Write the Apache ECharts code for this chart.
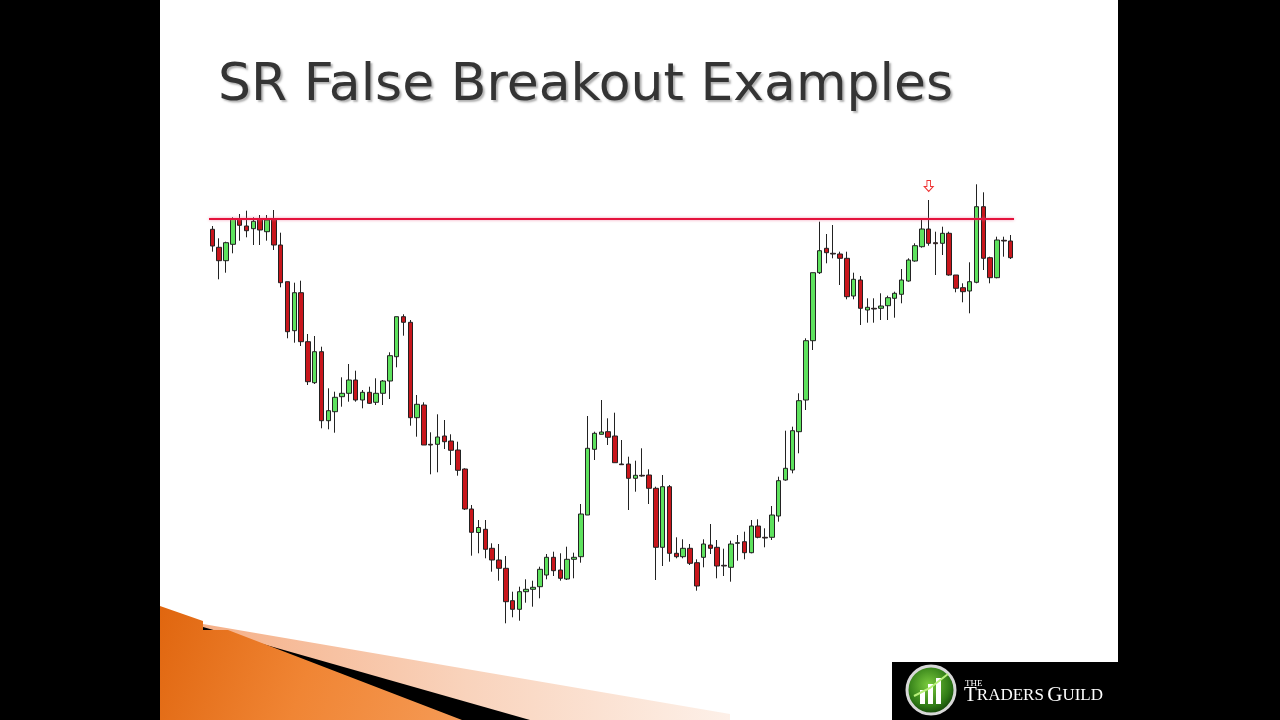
<!DOCTYPE html>
<html>
<head>
<meta charset="utf-8">
<script src="https://cdn.jsdelivr.net/npm/echarts@6/dist/echarts.min.js"></script>
<style>
html,body{margin:0;padding:0;background:#000;}
#chart{width:1280px;height:720px;}
</style>
</head>
<body>
<div id="chart"></div>
<script>
var titleText = 'SR False Breakout Examples';
var resistanceLevel = 481;
var signalIndex = 105;
var signalValue = 514;

var opens = [470.7,452.7,439.3,455.7,481,474,471.3,480.7,468.3,480.7,
455,418.3,369.3,407.3,358.3,317.3,348.3,279.3,288.3,303.3,
306.7,320,300,307.7,297.7,306.7,319,343.3,383.3,377.7,
282.3,295,255.7,255.7,264,259,250,231,191,167.5,
170.7,151.7,140,131.7,99.3,90.7,108.3,110.7,113.3,125,
142.7,130,121,140.7,143.3,185,250.7,265.7,268.3,264,
236,236,221.7,224.7,225,211.7,152.7,213.3,146.7,143.3,
151.7,137.3,142.7,155,152.7,134.7,132.7,156.7,158.3,147.3,
174,162.7,162.7,184,220,230,268.3,300,359.3,427.3,
451.7,446.7,446,441.7,404,420,390,391.7,391.7,394.3,
401.7,405.7,419,439,453.3,471,457.3,456.7,466.7,425,
412.3,409,417.7,493.3,442.3,422.3,459.7,459];

var closes = [454,439.3,457.3,481,474.7,469.3,478.7,470,480,455,
417.3,368.3,407.3,358.3,318.3,348.3,279.3,289.3,302.7,306.7,
320,300,307.7,296.7,306.7,319,344.3,383.3,377.7,282.3,
295.7,255,255,263,258.3,249.7,229.7,191,167.7,172.5,
150.7,140,131.7,98.3,90.7,108.3,110.7,112.7,130.7,142.7,
129.3,121.7,140.7,142.7,186,251.7,266.7,268,262.7,237.3,
235.3,221.7,224.7,224,211.7,152.7,213.3,146.7,143.3,151.7,
136.7,114,156,151.7,134,134,156,157.3,147.3,174,
162.7,162,185,219.3,231.7,269.3,299.3,359.3,427.3,449.3,
447.3,446,441.7,403.3,420.7,391.7,392.7,391,394,402.3,
406.7,420,440,454.3,471,456.7,456.3,466.7,425,411.7,
408.3,418.3,493.3,441.7,422.3,460,459,442.3];

var lows = [448.3,420.7,427.3,446.7,459.3,462.7,455,455,459.3,450,
412.7,361.7,357.3,354,315,316,271.7,270.7,267.3,293.3,
298.3,298.3,291.7,296,295,295,301,332.7,364.3,274.3,
263.3,255,225.7,227.7,251,235,224.3,190,144.3,146.7,
141.7,128.3,119.3,76.7,82.7,79.3,97.3,93.3,101.7,120.7,
124,119.3,120,121.7,137.3,185,240,265.7,255,237.3,
235.3,190,208.3,223.3,196,120,134,138.3,141.7,141.7,
135,109.3,132.7,146,121.7,124,118.3,139.3,140.7,146.7,
161.7,152.7,160,178.3,219.3,226.7,246.7,290,350,426,
436.7,441.7,415,400.7,400.7,375,377.3,377.3,380,380,
382.3,396.7,418.3,438.3,452.3,454.3,425,445,424.3,407.7,
397.7,386.7,416.7,430,416.7,421.7,443.3,441];

var highs = [474,461.7,458.3,482.7,486,489.3,482.7,485,485,490,
467.3,418.3,417.3,419.3,366,364,353.3,311.7,308.3,322.7,
336,329.3,310,313.3,321.7,320,347.7,383.3,385.7,380,
305,297.7,267.7,285.7,280,265.7,258.3,231.7,195,180,
180,156.7,156,144,108.3,113.3,120.7,119.3,133.3,146,
148.3,146.7,153.3,147.3,196,284,268.3,300,281.7,287.3,
260,243.3,239.3,251.7,230.7,213.3,225,215,162.7,160.7,
156,140.7,160.7,176,160,151.3,159.3,165,168.3,180,
180.7,171.7,194,223.3,269.3,273.3,306.7,361.7,427.3,478.3,
466,475,448.3,448.3,427.3,424,401.7,401.7,406.7,404.3,
408.3,431,441.7,456.7,481.7,500,468.3,473.3,468.3,425,
416.7,437.7,515.7,507.7,443.3,463.3,463.3,465];

var categories = opens.map(function (_, i) { return String(i + 1); });
var ohlc = opens.map(function (o, i) { return [o, closes[i], lows[i], highs[i]]; });

var chart = echarts.init(document.getElementById('chart'));
chart.setOption({
  animation: false,
  backgroundColor: '#000',
  title: {
    text: titleText,
    left: 213,
    top: 55,
    textStyle: {
      fontFamily: 'DejaVu Sans',
      fontSize: 52,
      fontWeight: 'normal',
      color: '#343434',
      textShadowColor: 'rgba(0,0,0,0.3)',
      textShadowBlur: 2,
      textShadowOffsetX: 2,
      textShadowOffsetY: 2
    }
  },
  graphic: [
    { type: 'rect', z: -10, shape: { x: 160, y: 0, width: 958, height: 720 }, style: { fill: '#fff' } },
    { type: 'polygon', z: -9, shape: { points: [[203,624],[730,714],[730,720],[203,720]] },
      style: { fill: new echarts.graphic.LinearGradient(0, 0, 1, 0, [
        { offset: 0, color: '#f5b088' }, { offset: 0.5, color: '#f9d3bc' }, { offset: 1, color: '#fdf0e8' }]) } },
    { type: 'polygon', z: -8, shape: { points: [[203,627],[530,720],[203,720]] }, style: { fill: '#000' } },
    { type: 'polygon', z: -7, shape: { points: [[160,606],[203,621],[203,630],[228,630],[462,720],[160,720]] },
      style: { fill: new echarts.graphic.LinearGradient(0, 0, 1, 1, [
        { offset: 0, color: '#e0660f' }, { offset: 0.5, color: '#f08534' }, { offset: 1, color: '#f59a55' }]) } },
    { type: 'rect', z: -6, shape: { x: 892, y: 662, width: 226, height: 58 }, style: { fill: '#000' } },
    { type: 'circle', z: -5, shape: { cx: 931, cy: 690, r: 24 },
      style: { fill: new echarts.graphic.RadialGradient(0.45, 0.4, 0.6, [
        { offset: 0, color: '#7acb3e' }, { offset: 0.7, color: '#2f7a16' }, { offset: 1, color: '#123d08' }]),
        stroke: '#d8d8d8', lineWidth: 3 } },
    { type: 'rect', z: -4, shape: { x: 920, y: 690, width: 5, height: 14 }, style: { fill: '#fff' } },
    { type: 'rect', z: -4, shape: { x: 928, y: 684, width: 5, height: 20 }, style: { fill: '#fff' } },
    { type: 'rect', z: -4, shape: { x: 936, y: 678, width: 5, height: 26 }, style: { fill: '#fff' } },
    { type: 'polyline', z: -4, shape: { points: [[914,696],[930,688],[948,674]] }, style: { stroke: '#b8f07a', lineWidth: 2, fill: null } },
    { type: 'text', z: -3, style: { x: 965, y: 679, text: 'THE', fill: '#fff', fontFamily: 'Liberation Serif', fontSize: 9 } },
    { type: 'text', z: -3, style: { x: 964, y: 685, text: '{b|T}{s|RADERS} {b|G}{s|UILD}', fill: '#fff',
      rich: { b: { fontFamily: 'Liberation Serif', fontSize: 21, fill: '#fff' }, s: { fontFamily: 'Liberation Serif', fontSize: 17, fill: '#fff' } } } }
  ],
  grid: { left: 209, width: 805, top: 150, height: 500 },
  xAxis: { type: 'category', data: categories, boundaryGap: true, show: false },
  yAxis: { type: 'value', min: 50, max: 550, show: false },
  series: [{
    type: 'candlestick',
    data: ohlc,
    barWidth: 5,
    itemStyle: {
      color: '#5ee25e',
      color0: '#c8161c',
      borderColor: '#222',
      borderColor0: '#222',
      borderWidth: 1
    },
    markLine: {
      silent: true,
      symbol: 'none',
      label: { show: false },
      lineStyle: { color: '#e4133c', width: 2, type: 'solid', shadowColor: 'rgba(240,100,140,0.7)', shadowBlur: 3 },
      data: [{ yAxis: resistanceLevel }]
    },
    markPoint: {
      silent: true,
      symbol: 'path://M3,0 L7,0 L7,6 L10,6 L5,11 L0,6 L3,6 Z',
      symbolSize: [9, 11],
      label: { show: false },
      itemStyle: { color: '#fff', borderColor: '#e33', borderWidth: 1 },
      data: [{ coord: [signalIndex, signalValue] }]
    }
  }]
});
</script>
</body>
</html>
